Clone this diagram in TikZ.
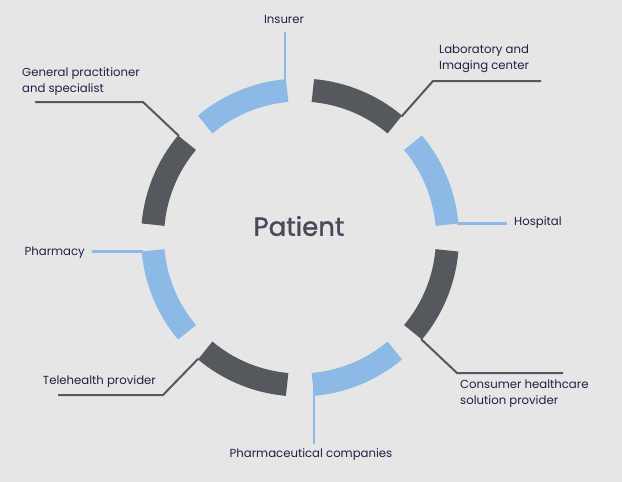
\documentclass[tikz,border=0pt]{standalone}
\usepackage{fontspec}
\setmainfont{Poppins}
\newfontfamily\patfont[FakeBold=1.2]{Poppins}
\definecolor{bg}{RGB}{230,230,230}
\definecolor{segdark}{RGB}{85,88,93}
\definecolor{segblue}{RGB}{141,185,230}
\definecolor{txt}{RGB}{32,32,68}
\definecolor{pat}{RGB}{72,72,88}
\tikzset{
  seg/.style={line width=23pt},
  darkseg/.style={seg,draw=segdark},
  blueseg/.style={seg,draw=segblue},
  darkline/.style={draw=segdark,line width=2pt},
  blueline/.style={draw=segblue,line width=2.6pt},
  lbl/.style={font=\fontsize{11.7}{16}\selectfont,text=txt,inner sep=0pt},
}
\begin{document}
\begin{tikzpicture}[x=1pt,y=1pt]
\useasboundingbox[fill=bg] (0,0) rectangle (622,-482);
\coordinate (C) at (300,-237.5);
% ring segments
\draw[blueseg] ([shift={(C)}]95:147.5) arc (95:130:147.5);
\draw[darkseg] ([shift={(C)}]50:147.5) arc (50:85:147.5);
\draw[blueseg] ([shift={(C)}]5:147.5) arc (5:40:147.5);
\draw[darkseg] ([shift={(C)}]-40:147.5) arc (-40:-5:147.5);
\draw[blueseg] ([shift={(C)}]-85:147.5) arc (-85:-50:147.5);
\draw[darkseg] ([shift={(C)}]-130:147.5) arc (-130:-95:147.5);
\draw[blueseg] ([shift={(C)}]185:147.5) arc (185:220:147.5);
\draw[darkseg] ([shift={(C)}]140:147.5) arc (140:175:147.5);
% segment end points
\coordinate (sIns) at ([shift={(C)}]95.7:150);
\coordinate (sLab) at ([shift={(C)}]50:158);
\coordinate (sHos) at ([shift={(C)}]5:158);
\coordinate (sCon) at ([shift={(C)}]-40:158);
\coordinate (sPhc) at ([shift={(C)}]-84.7:150);
\coordinate (sTel) at ([shift={(C)}]-130:158);
\coordinate (sPha) at ([shift={(C)}]185:158);
\coordinate (sGP) at ([shift={(C)}]140:158);
% center
\node[font=\patfont\fontsize{26}{30}\selectfont,text=pat] (patient) at (299,-226) {Patient};
% labels
\node[lbl] (ins) at (284,-19) {Insurer};
\node[lbl,anchor=west,align=left] (lab) at (439,-59) {Laboratory and\\Imaging center};
\node[lbl,anchor=west] (hos) at (514,-222.5) {Hospital};
\node[lbl,anchor=west,align=left] (con) at (460,-394) {Consumer healthcare\\solution provider};
\node[lbl] (phc) at (311,-455) {Pharmaceutical companies};
\node[lbl,anchor=east] (tel) at (156,-382) {Telehealth provider};
\node[lbl,anchor=east] (pha) at (85,-253) {Pharmacy};
\node[lbl,anchor=west,align=left] (gp) at (22,-82) {General practitioner\\and specialist};
% connector end points
\coordinate (eIns) at (284.5,-32);
\coordinate (bLab) at (433,-81);
\coordinate (eLab) at (541,-81);
\coordinate (eHos) at (507,-222.5);
\coordinate (bCon) at (457,-373);
\coordinate (eCon) at (563,-373);
\coordinate (ePhc) at (313.5,-444);
\coordinate (bTel) at (163,-395);
\coordinate (eTel) at (58,-395);
\coordinate (ePha) at (92,-253);
\coordinate (bGP) at (143,-102);
\coordinate (eGP) at (35,-102);
% connectors
\draw[blueline] (sIns) -- (sIns |- eIns);
\draw[darkline] (sLab) -- (bLab) -- (eLab);
\draw[blueline] (sHos) -- (eHos |- sHos);
\draw[darkline] (sCon) -- (bCon) -- (eCon);
\draw[blueline] (sPhc) -- (sPhc |- ePhc);
\draw[darkline] (sTel) -- (bTel) -- (eTel);
\draw[blueline] (sPha) -- (ePha |- sPha);
\draw[darkline] (sGP) -- (bGP) -- (eGP);
\end{tikzpicture}
\end{document}
